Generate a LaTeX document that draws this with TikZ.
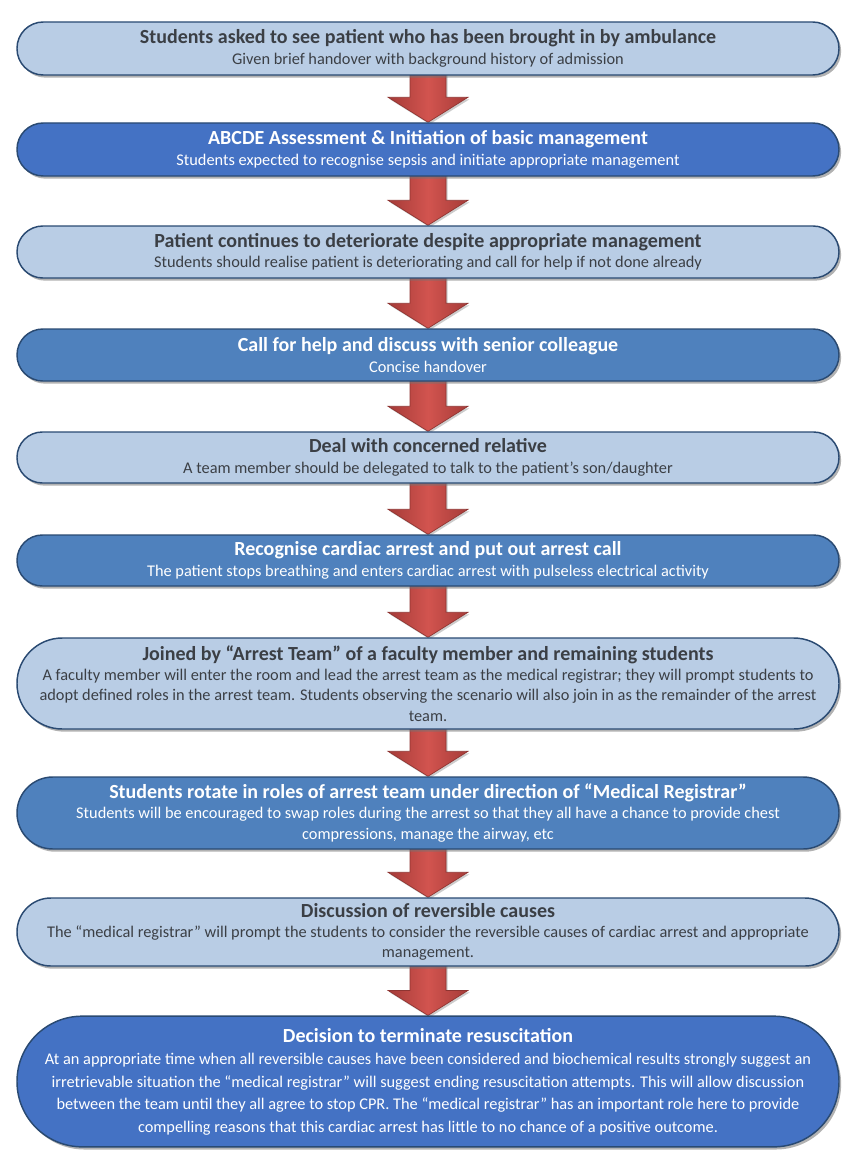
\documentclass[tikz,border=0pt]{standalone}
\usepackage{fontspec}
\setmainfont{Carlito}
\usetikzlibrary{calc,shadows,backgrounds}
\definecolor{lightfill}{HTML}{B9CDE5}
\definecolor{darkfill}{HTML}{4472C4}
\definecolor{midfill}{HTML}{4F81BD}
\definecolor{boxedge}{HTML}{2A4A72}
\definecolor{txtdark}{HTML}{3B3F45}
\definecolor{arrowmid}{HTML}{D2544F}
\definecolor{arrowside}{HTML}{A53B38}
\definecolor{arrowline}{HTML}{8E3431}
\newcommand{\ttl}{\fontsize{15}{16}\selectfont\bfseries}
\tikzset{
  flowbox/.style={draw=boxedge, line width=1.1pt, minimum width=616.5pt, align=center, inner sep=0pt,
    font=\fontsize{12.25}{15.2}\selectfont,
    drop shadow={shadow xshift=1.6pt, shadow yshift=-2pt, fill=black!55, opacity=0.55}},
  lightbox/.style={flowbox, fill=lightfill, text=txtdark},
  darkbox/.style={flowbox, fill=darkfill, text=white},
  midbox/.style={flowbox, fill=midfill, text=white},
  redarrow/.style={draw=arrowline, line width=0.5pt, left color=arrowside, right color=arrowside, middle color=arrowmid,
    drop shadow={shadow xshift=1.2pt, shadow yshift=-1.5pt, fill=black!40, opacity=0.5}}
}
\begin{document}
\begin{tikzpicture}[x=0.75pt, y=-0.75pt]
\useasboundingbox (0,0) rectangle (857,1152);
\node[lightbox, minimum height=39.75pt, rounded corners=19.7pt] (b1) at (428,48.5)
  {{\ttl Students asked to see patient who has been brought in by ambulance}\\
   Given brief handover with background history of admission};
\node[darkbox, minimum height=39.75pt, rounded corners=19.7pt] (b2) at (428,149.5)
  {{\ttl ABCDE Assessment \& Initiation of basic management}\\
   Students expected to recognise sepsis and initiate appropriate management};
\node[lightbox, minimum height=39pt, rounded corners=19.4pt] (b3) at (428,252)
  {{\ttl Patient continues to deteriorate despite appropriate management}\\
   Students should realise patient is deteriorating and call for help if not done already};
\node[midbox, minimum height=39pt, rounded corners=19.4pt] (b4) at (428,355)
  {{\ttl Call for help and discuss with senior colleague}\\
   Concise handover};
\node[lightbox, minimum height=38.25pt, rounded corners=19pt] (b5) at (428,457.5)
  {{\ttl Deal with concerned relative}\\
   A team member should be delegated to talk to the patient’s son/daughter};
\node[midbox, minimum height=38.25pt, rounded corners=19pt] (b6) at (428,560.5)
  {{\ttl Recognise cardiac arrest and put out arrest call}\\
   The patient stops breathing and enters cardiac arrest with pulseless electrical activity};
\node[lightbox, minimum height=68.25pt, rounded corners=34pt] (b7) at (428,683.5)
  {{\ttl Joined by “Arrest Team” of a faculty member and remaining students}\\
   A faculty member will enter the room and lead the arrest team as the medical registrar; they will prompt students to\\
   adopt defined roles in the arrest team. Students observing the scenario will also join in as the remainder of the arrest\\
   team.};
\node[midbox, minimum height=54pt, rounded corners=26.9pt] (b8) at (428,813)
  {{\ttl Students rotate in roles of arrest team under direction of “Medical Registrar”}\\
   Students will be encouraged to swap roles during the arrest so that they all have a chance to provide chest\\
   compressions, manage the airway, etc};
\node[lightbox, minimum height=51pt, rounded corners=25.4pt] (b9) at (428,932)
  {{\ttl Discussion of reversible causes}\\
   The “medical registrar” will prompt the students to consider the reversible causes of cardiac arrest and appropriate\\
   management.};
\node[darkbox, minimum height=98pt, rounded corners=48.9pt, font=\fontsize{12.25}{16.9}\selectfont] (b10) at (428,1081.5)
  {{\ttl Decision to terminate resuscitation}\\
   At an appropriate time when all reversible causes have been considered and biochemical results strongly suggest an\\
   irretrievable situation the “medical registrar” will suggest ending resuscitation attempts. This will allow discussion\\
   between the team until they all agree to stop CPR. The “medical registrar” has an important role here to provide\\
   compelling reasons that this cardiac arrest has little to no chance of a positive outcome.};
\begin{scope}[on background layer]
\foreach \a/\b in {b1/b2,b2/b3,b3/b4,b4/b5,b5/b6,b6/b7,b7/b8,b8/b9,b9/b10}{
  \path[redarrow] ($(\a.south)+(-18,-3)$) -- ($(\b.north)+(-18,-25)$) -- ($(\b.north)+(-40,-25)$) --
    (\b.north) -- ($(\b.north)+(40,-25)$) -- ($(\b.north)+(18,-25)$) -- ($(\a.south)+(18,-3)$) -- cycle;
}
\end{scope}
\end{tikzpicture}
\end{document}
